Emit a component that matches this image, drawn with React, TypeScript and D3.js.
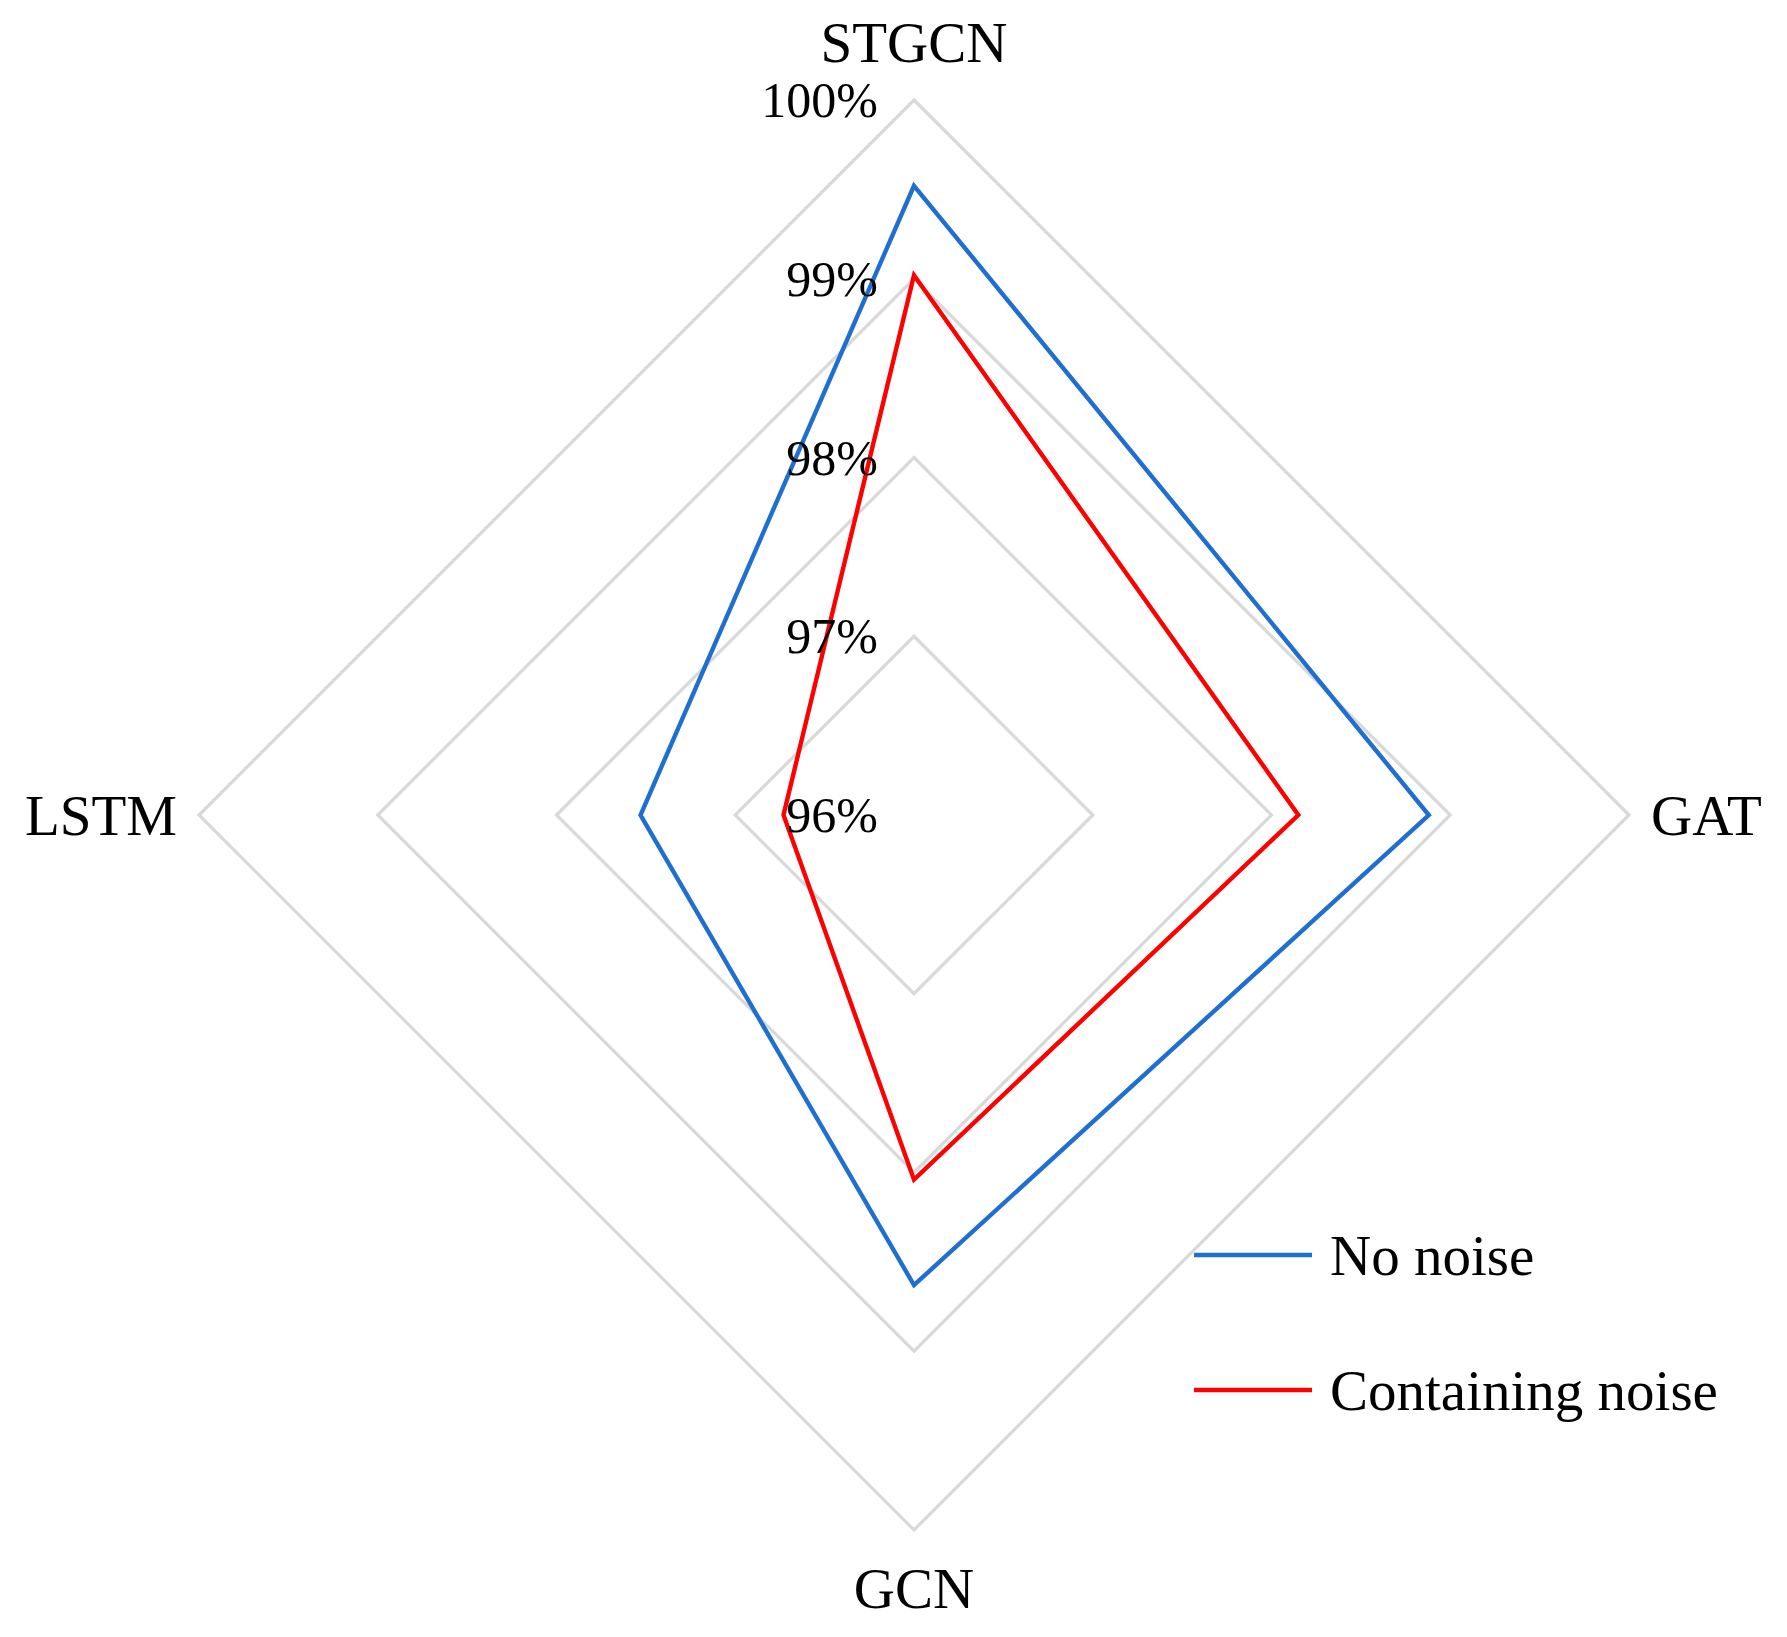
import { scaleLinear, lineRadial, curveLinearClosed } from "d3";

const axes = ["STGCN", "GAT", "GCN", "LSTM"];
const noNoise = [99.52, 98.88, 98.63, 97.53];
const withNoise = [99.02, 98.15, 98.04, 96.73];
const ticks = [96, 97, 98, 99, 100];
const tickLabels = ["96%", "97%", "98%", "99%", "100%"];
const seriesNames = ["No noise", "Containing noise"];
const seriesColors = ["#1f6fd1", "#ff0000"];

const W = 1787;
const H = 1637;
const cx = 914;
const cy = 815;
const R = 715;
const FONT = "'Liberation Serif', 'Times New Roman', serif";

export default function App() {
  const r = scaleLinear().domain([96, 100]).range([0, R]);
  const angle = (i: number) => (i * 2 * Math.PI) / axes.length;

  const radar = lineRadial<number>()
    .angle((_, i) => angle(i))
    .radius((d) => r(d))
    .curve(curveLinearClosed);

  const ring = (v: number) => radar(axes.map(() => v)) || "";

  // label placement around the rim
  const labelPos = (i: number) => {
    const a = angle(i);
    const vertical = i % 2 === 0;
    const dist = vertical ? R + 58 : R + 22;
    return {
      x: Math.sin(a) * dist,
      y: -Math.cos(a) * dist,
      anchor: vertical ? "middle" : i === 1 ? "start" : "end",
    };
  };

  return (
    <svg
      width={W}
      height={H}
      style={{ position: "absolute", left: 0, top: 0, background: "#fff" }}
      fontFamily={FONT}
    >
      <g transform={`translate(${cx},${cy})`}>
        {/* Grid rings */}
        {ticks
          .filter((t) => t > 96)
          .map((t) => (
            <path key={t} d={ring(t)} fill="none" stroke="#d9d9d9" strokeWidth={3.2} />
          ))}

        {/* Series */}
        {[noNoise, withNoise].map((s, k) => (
          <path
            key={k}
            d={radar(s) || ""}
            fill="none"
            stroke={seriesColors[k]}
            strokeWidth={4.4}
            strokeLinejoin="miter"
          />
        ))}

        {/* Tick labels */}
        {ticks.map((t, i) => (
          <text
            key={t}
            x={-36}
            y={-r(t)}
            textAnchor="end"
            dominantBaseline="central"
            fontSize={50}
            fill="#000"
          >
            {tickLabels[i]}
          </text>
        ))}

        {/* Axis labels */}
        {axes.map((a, i) => {
          const p = labelPos(i);
          return (
            <text
              key={a}
              x={p.x}
              y={p.y}
              textAnchor={p.anchor}
              dominantBaseline="central"
              fontSize={57}
              fill="#000"
            >
              {a}
            </text>
          );
        })}
      </g>

      {/* Legend */}
      <g transform="translate(1194,1255)">
        {seriesNames.map((name, k) => (
          <g key={name} transform={`translate(0,${k * 135})`}>
            <line x1={0} x2={118} y1={0} y2={0} stroke={seriesColors[k]} strokeWidth={4.4} />
            <text x={136} y={0} dominantBaseline="central" fontSize={57} fill="#000">
              {name}
            </text>
          </g>
        ))}
      </g>
    </svg>
  );
}
